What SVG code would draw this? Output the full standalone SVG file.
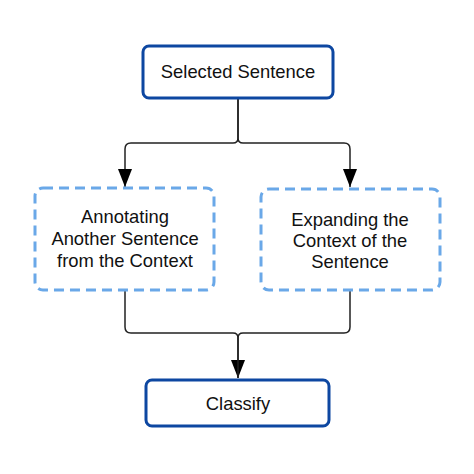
<svg xmlns="http://www.w3.org/2000/svg" width="474" height="474" viewBox="0 0 474 474">
<style>
.solid{fill:#fff;stroke:#0d47a1;stroke-width:3}
.dash{fill:#fff;stroke:#6aa8e8;stroke-width:3;stroke-dasharray:10 6}
.t{font-family:"Liberation Sans",Arial,sans-serif;font-size:18.4px;fill:#111;text-anchor:middle}
.c{fill:none;stroke:#222;stroke-width:1.5}
</style>
<defs>
<marker id="ah" viewBox="0 0 18 14" refX="18" refY="7" markerWidth="18" markerHeight="14" markerUnits="userSpaceOnUse" orient="auto">
<path d="M0,0 L18,7 L0,14 Z" fill="#000"/>
</marker>
</defs>
<rect width="474" height="474" fill="#fff"/>
<g id="connectors">
<path class="c" d="M238,98 V138 Q238,143 233,143 H131 Q125,143 125,149 V187" marker-end="url(#ah)"/>
<path class="c" d="M238,98 V138 Q238,143 243,143 H344 Q350,143 350,149 V187" marker-end="url(#ah)"/>
<path class="c" d="M125,290 V327 Q125,333 131,333 H233 Q238,333 238,338 V378" marker-end="url(#ah)"/>
<path class="c" d="M350,290 V327 Q350,333 344,333 H243 Q238,333 238,338 V378"/>
</g>
<g id="selected">
<rect class="solid" x="143" y="46" width="190" height="52" rx="6"/>
<text class="t" x="238" y="78">Selected Sentence</text>
</g>
<g id="annotating">
<rect class="dash" x="35" y="188" width="179" height="102" rx="8"/>
<text class="t" x="125" y="223">Annotating</text>
<text class="t" x="125" y="245">Another Sentence</text>
<text class="t" x="125" y="267">from the Context</text>
</g>
<g id="expanding">
<rect class="dash" x="261" y="189" width="179" height="101" rx="8"/>
<text class="t" x="350" y="226">Expanding the</text>
<text class="t" x="350" y="247">Context of the</text>
<text class="t" x="350" y="268">Sentence</text>
</g>
<g id="classify">
<rect class="solid" x="146" y="380" width="183" height="46" rx="6"/>
<text class="t" x="238" y="410">Classify</text>
</g>
</svg>
